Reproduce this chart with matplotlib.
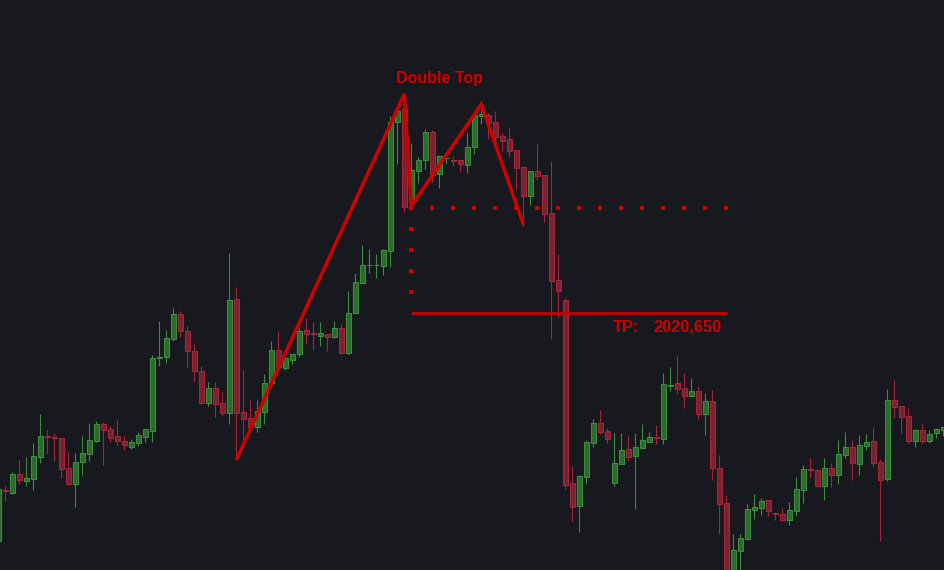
import numpy as np
import matplotlib
matplotlib.use("Agg")
import matplotlib.pyplot as plt

# ---------------- data (price values, candle index -1 .. 134) ----------------
opens = [1997.80, 2002.90, 2002.63, 2004.47, 2003.83, 2004.03, 2006.23, 2008.30, 2008.20, 2008.10, 2005.10,
         2003.53, 2005.73, 2006.53, 2007.80, 2009.50, 2009.00, 2008.30, 2007.80, 2007.23, 2007.63,
         2008.23, 2008.83, 2016.13, 2016.23, 2018.03, 2020.50, 2018.80, 2016.80, 2014.80, 2011.63,
         2013.10, 2011.57, 2010.63, 2022.00, 2010.70, 2010.10, 2009.17, 2010.73, 2013.57, 2016.90,
         2015.13, 2015.87, 2016.47, 2018.90, 2018.60, 2018.33, 2018.50, 2018.23, 2019.10, 2016.63,
         2020.63, 2023.63, 2025.37, 2025.37, 2025.33, 2026.83, 2039.73, 2041.00, 2031.70, 2034.83,
         2035.87, 2038.70, 2034.53, 2036.07, 2035.87, 2035.90, 2035.43, 2037.23, 2040.27, 2040.40,
         2039.70, 2038.30, 2038.00, 2036.90, 2035.20, 2032.33, 2034.80, 2034.40, 2030.60, 2023.90,
         2021.90, 2003.60, 2001.33, 2004.23, 2007.63, 2009.60, 2008.80, 2003.63, 2005.53, 2007.00,
         2006.33, 2007.13, 2007.73, 2008.20, 2008.03, 2013.35, 2013.60, 2013.10, 2012.30, 2012.80,
         2010.53, 2011.80, 2005.10, 2001.60, 1993.90, 1996.83, 1998.00, 2000.93, 2001.13, 2001.90,
         2000.60, 2000.50, 1999.90, 2000.83, 2002.93, 2005.00, 2004.90, 2003.30, 2005.10, 2004.40,
         2006.40, 2007.20, 2005.50, 2007.30, 2007.80, 2005.70, 2004.00, 2011.90, 2011.30, 2010.30,
         2007.80, 2008.90, 2007.80, 2008.60, 2008.90]

highs = [2003.10, 2003.30, 2004.67, 2005.90, 2006.20, 2007.60, 2010.50, 2008.90, 2008.60, 2008.10, 2006.70,
         2006.60, 2008.30, 2009.60, 2009.80, 2009.70, 2009.30, 2010.00, 2008.30, 2008.00, 2008.70,
         2009.00, 2016.40, 2019.80, 2018.90, 2021.10, 2020.80, 2019.30, 2017.60, 2015.30, 2013.70,
         2013.70, 2012.70, 2026.60, 2023.20, 2014.90, 2011.90, 2011.90, 2014.50, 2017.80, 2018.80,
         2016.10, 2016.50, 2019.10, 2020.10, 2019.70, 2019.70, 2018.50, 2019.80, 2019.60, 2022.83,
         2024.60, 2027.40, 2027.00, 2026.50, 2027.00, 2040.30, 2040.80, 2042.60, 2037.60, 2036.20,
         2039.00, 2038.90, 2036.40, 2036.10, 2036.30, 2035.90, 2038.60, 2040.40, 2041.20, 2040.60,
         2040.80, 2038.60, 2039.10, 2036.90, 2035.27, 2034.80, 2037.50, 2034.40, 2035.80, 2026.50,
         2022.10, 2005.30, 2004.40, 2007.90, 2010.00, 2010.90, 2009.10, 2008.60, 2008.60, 2008.30,
         2008.60, 2009.50, 2008.70, 2009.40, 2014.60, 2015.20, 2016.40, 2014.60, 2014.10, 2013.30,
         2012.60, 2012.90, 2006.40, 2002.40, 1998.50, 1998.50, 2001.50, 2002.50, 2002.10, 2001.90,
         2000.70, 2001.10, 2001.70, 2004.20, 2005.40, 2006.10, 2005.00, 2006.10, 2005.60, 2007.90,
         2008.70, 2007.90, 2008.40, 2008.50, 2009.20, 2006.00, 2013.00, 2013.90, 2011.30, 2011.10,
         2009.00, 2009.50, 2008.90, 2009.00, 2009.20]

lows = [1997.40, 2001.83, 2002.53, 2003.53, 2003.33, 2002.93, 2005.63, 2006.53, 2005.80, 2004.13, 2003.43,
        2001.23, 2004.43, 2005.83, 2007.70, 2005.43, 2007.70, 2007.33, 2006.93, 2007.03, 2007.33,
        2007.70, 2007.73, 2015.33, 2015.63, 2017.83, 2018.23, 2015.13, 2013.73, 2011.53, 2011.33,
        2010.23, 2010.33, 2009.53, 2005.90, 2007.90, 2008.90, 2008.73, 2009.53, 2013.30, 2014.70,
        2014.93, 2015.53, 2016.20, 2017.53, 2016.93, 2017.33, 2016.83, 2018.13, 2016.53, 2016.53,
        2020.63, 2023.63, 2024.63, 2024.13, 2024.43, 2025.23, 2035.53, 2030.73, 2031.10, 2033.63,
        2035.03, 2033.73, 2033.13, 2035.53, 2035.33, 2034.73, 2034.63, 2036.53, 2039.53, 2038.03,
        2037.23, 2036.73, 2036.23, 2033.03, 2029.33, 2031.43, 2033.93, 2029.73, 2018.00, 2020.13,
        2003.03, 1999.83, 1998.73, 2003.53, 2007.23, 2008.53, 2007.63, 2003.33, 2005.53, 2005.83,
        2001.03, 2007.13, 2007.73, 2007.53, 2007.53, 2012.83, 2012.53, 2011.10, 2012.23, 2010.03,
        2008.43, 2003.93, 1998.53, 1993.40, 1992.90, 1994.70, 1997.90, 2000.00, 2000.40, 2000.30,
        1999.90, 1999.80, 1999.40, 2000.30, 2001.60, 2004.10, 2003.20, 2001.90, 2003.20, 2003.50,
        2006.10, 2003.90, 2004.40, 2006.90, 2005.20, 1997.80, 2003.80, 2010.10, 2008.60, 2007.60,
        2007.20, 2007.60, 2007.60, 2008.10, 2008.30]

closes = [2003.00, 2002.85, 2004.47, 2003.93, 2004.10, 2006.30, 2008.30, 2008.25, 2008.15, 2005.03, 2003.53,
          2005.70, 2006.60, 2007.90, 2009.50, 2008.93, 2008.13, 2007.83, 2007.43, 2007.67, 2008.40,
          2009.00, 2016.07, 2016.20, 2018.07, 2020.50, 2018.83, 2016.83, 2014.83, 2011.60, 2013.10,
          2011.53, 2010.63, 2021.90, 2010.63, 2010.03, 2009.17, 2010.77, 2013.60, 2016.90, 2015.23,
          2016.07, 2016.47, 2018.80, 2018.53, 2018.55, 2018.60, 2018.23, 2019.10, 2016.63, 2020.60,
          2023.70, 2025.40, 2025.40, 2025.40, 2026.90, 2039.67, 2040.80, 2031.23, 2034.90, 2035.90,
          2038.70, 2034.43, 2036.30, 2036.10, 2035.82, 2035.53, 2037.20, 2040.40, 2040.53, 2039.63,
          2038.23, 2037.83, 2036.83, 2035.13, 2032.33, 2034.80, 2034.33, 2030.53, 2023.83, 2022.83,
          2003.43, 2001.23, 2004.30, 2007.70, 2009.60, 2008.73, 2008.03, 2005.60, 2006.90, 2006.23,
          2007.20, 2007.90, 2008.20, 2008.15, 2013.50, 2013.40, 2013.00, 2012.30, 2012.80, 2010.55,
          2011.80, 2005.13, 2001.53, 1994.10, 1996.90, 1998.10, 2001.00, 2001.20, 2001.80, 2000.83,
          2000.55, 1999.90, 2000.90, 2003.00, 2005.00, 2004.95, 2003.30, 2005.10, 2004.40, 2006.50,
          2007.20, 2005.60, 2007.40, 2007.70, 2005.60, 2003.90, 2011.90, 2011.20, 2010.20, 2007.80,
          2008.90, 2007.80, 2008.50, 2009.00, 2009.20]

# Double top zigzag: candle indices and prices
pattern_idx = [33, 57, 58, 68, 74]
pattern_px = [2005.90, 2042.50, 2031.30, 2041.47, 2029.47]

neckline = 2031.10
tp_price = 2020.65
tp_label = "2020,650"
title_label = "Double Top"

# ---------------- style ----------------
BG = "#18191e"
G_FILL, G_EDGE = "#2c6b2d", "#3c8c3d"
R_FILL, R_EDGE = "#7a2230", "#a3253a"
RED = "#d10000"

fig = plt.figure(figsize=(9.45, 5.70), dpi=100, facecolor=BG)
ax = fig.add_axes([0, 0, 1, 1])
ax.set_facecolor(BG)

o = np.array(opens); h = np.array(highs); l = np.array(lows); c = np.array(closes)
x = np.arange(-1, -1 + len(o))
up = c >= o

# wicks
ax.vlines(x[up], l[up], h[up], color=G_EDGE, linewidth=0.8, zorder=2)
ax.vlines(x[~up], l[~up], h[~up], color=R_EDGE, linewidth=0.8, zorder=2)
# bodies
body_h = np.maximum(np.abs(c - o), 0.06)
body_b = np.minimum(o, c)
ax.bar(x[up], body_h[up], bottom=body_b[up], width=0.66, color=G_FILL,
       edgecolor=G_EDGE, linewidth=0.8, zorder=3)
ax.bar(x[~up], body_h[~up], bottom=body_b[~up], width=0.66, color=R_FILL,
       edgecolor=R_EDGE, linewidth=0.8, zorder=3)

# pattern lines
ax.plot(pattern_idx, pattern_px, color=RED, linewidth=2.5, zorder=5,
        solid_joinstyle="miter", solid_capstyle="butt")

x_end = 103.06
# dotted neckline
dots_x = np.arange(pattern_idx[2], 104, 3)
ax.scatter(dots_x, np.full(len(dots_x), neckline), marker="s", s=5, color=RED,
           linewidths=0, zorder=5)
# dotted vertical
vy = neckline - 2.1 * np.arange(0, 5)
ax.scatter(np.full(len(vy), pattern_idx[2]), vy, marker="s", s=5, color=RED,
           linewidths=0, zorder=5)
# TP line
ax.plot([pattern_idx[2], x_end], [tp_price, tp_price], color=RED, linewidth=1.9,
        solid_capstyle="butt", zorder=5)

font = dict(family=["Liberation Sans", "DejaVu Sans"], fontweight="bold", color=RED)
ax.text(86.86, 2018.73, "TP:", ha="left", va="baseline", fontsize=11.8, zorder=6, **font)
ax.text(102.3, 2018.73, tp_label, ha="right", va="baseline", fontsize=11.8, zorder=6, **font)
ax.text(62.0, 2043.55, title_label, ha="center", va="baseline", fontsize=11.5, zorder=6, **font)

ax.set_xlim(-5.3 / 7, (945 - 5.3) / 7)
ax.set_ylim(2051.9 - 57.0, 2051.9)
ax.axis("off")

fig.savefig("out.png", dpi=100, facecolor=BG)
